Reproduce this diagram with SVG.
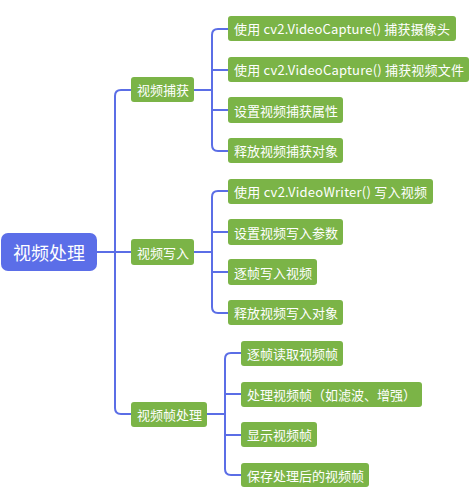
<svg xmlns="http://www.w3.org/2000/svg" width="474" height="499" viewBox="0 0 474 499">
<style>
.c{fill:none;stroke:#5b6ee6;stroke-width:2;stroke-linejoin:round}
.n rect{fill:#7bb447}
.n text{fill:#fff;font-family:"Microsoft YaHei","Noto Sans CJK SC",sans-serif;font-size:13px;dominant-baseline:central}
.r rect{fill:#5b6ee8}
.r text{fill:#fff;font-family:"Microsoft YaHei","Noto Sans CJK SC",sans-serif;font-size:18px;dominant-baseline:central;text-anchor:middle}
</style>
<rect width="474" height="499" fill="#fff"/>
<g id="connectors">
<path class="c" d="M97 252H131"/>
<path class="c" d="M131 90H121Q115 90 115 96V408Q115 414 121 414H131"/>
<path class="c" d="M194 90H212"/>
<path class="c" d="M228 29H218Q212 29 212 35V145Q212 151 218 151H228M212 70H228M212 110H228"/>
<path class="c" d="M194 252H212"/>
<path class="c" d="M228 191H218Q212 191 212 197V307Q212 313 218 313H228M212 232H228M212 272H228"/>
<path class="c" d="M207 414H225"/>
<path class="c" d="M241 353H231Q225 353 225 359V469Q225 475 231 475H241M225 394H241M225 435H241"/>
</g>
<g id="root" class="r"><rect x="1" y="233" width="96" height="38" rx="7"/><text x="49" y="252">视频处理</text></g>
<g id="capture" class="n"><rect x="131" y="77" width="63" height="25" rx="3"/><text x="137" y="89.5">视频捕获</text></g>
<g id="write" class="n"><rect x="131" y="239" width="63" height="26" rx="3"/><text x="137" y="252">视频写入</text></g>
<g id="frame" class="n"><rect x="131" y="402" width="76" height="25" rx="3"/><text x="137" y="414.5">视频帧处理</text></g>
<g id="c1" class="n"><rect x="228" y="16" width="228" height="25" rx="3"/><text x="234" y="28.5" textLength="216" lengthAdjust="spacing">使用 cv2.VideoCapture() 捕获摄像头</text></g>
<g id="c2" class="n"><rect x="228" y="57" width="241" height="25" rx="3"/><text x="234" y="69.5" textLength="230" lengthAdjust="spacing">使用 cv2.VideoCapture() 捕获视频文件</text></g>
<g id="c3" class="n"><rect x="228" y="97" width="115" height="26" rx="3"/><text x="234" y="110">设置视频捕获属性</text></g>
<g id="c4" class="n"><rect x="228" y="138" width="115" height="25" rx="3"/><text x="234" y="150.5">释放视频捕获对象</text></g>
<g id="w1" class="n"><rect x="228" y="179" width="205" height="25" rx="3"/><text x="234" y="191.5" textLength="193" lengthAdjust="spacing">使用 cv2.VideoWriter() 写入视频</text></g>
<g id="w2" class="n"><rect x="228" y="219" width="115" height="26" rx="3"/><text x="234" y="232">设置视频写入参数</text></g>
<g id="w3" class="n"><rect x="228" y="259" width="89" height="26" rx="3"/><text x="234" y="272">逐帧写入视频</text></g>
<g id="w4" class="n"><rect x="228" y="300" width="115" height="25" rx="3"/><text x="234" y="312.5">释放视频写入对象</text></g>
<g id="f1" class="n"><rect x="241" y="341" width="102" height="25" rx="3"/><text x="247" y="353.5">逐帧读取视频帧</text></g>
<g id="f2" class="n"><rect x="241" y="382" width="181" height="25" rx="3"/><text x="247" y="394.5">处理视频帧（如滤波、增强）</text></g>
<g id="f3" class="n"><rect x="241" y="422" width="76" height="25" rx="3"/><text x="247" y="434.5">显示视频帧</text></g>
<g id="f4" class="n"><rect x="241" y="463" width="128" height="24" rx="3"/><text x="247" y="475">保存处理后的视频帧</text></g>
</svg>
